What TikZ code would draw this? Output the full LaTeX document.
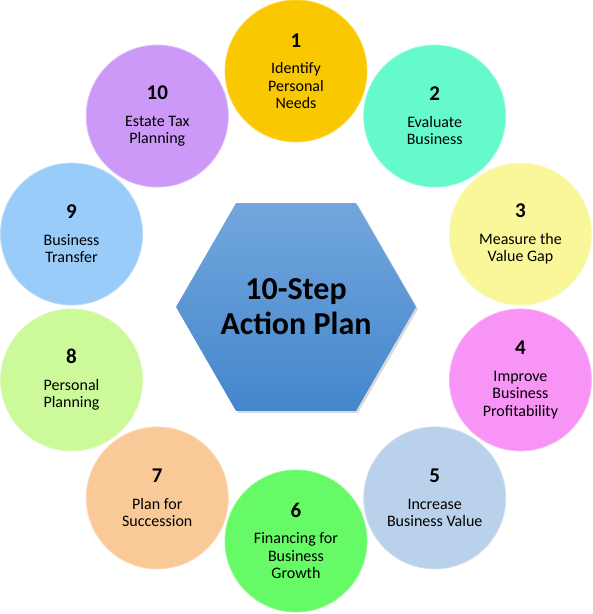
\documentclass[tikz,border=0pt]{standalone}
\usepackage{fontspec}
\setmainfont{Carlito}
\usetikzlibrary{shapes.geometric,shadows}

\definecolor{cOne}{RGB}{250,200,0}
\definecolor{cTwo}{RGB}{102,249,203}
\definecolor{cThree}{RGB}{249,247,154}
\definecolor{cFour}{RGB}{247,148,245}
\definecolor{cFive}{RGB}{185,209,234}
\definecolor{cSix}{RGB}{102,250,102}
\definecolor{cSeven}{RGB}{249,202,152}
\definecolor{cEight}{RGB}{204,249,154}
\definecolor{cNine}{RGB}{153,204,249}
\definecolor{cTen}{RGB}{204,153,249}
\definecolor{hexTop}{RGB}{114,167,221}
\definecolor{hexBot}{RGB}{68,134,204}

\newcommand{\num}[1]{{\fontsize{21}{24}\selectfont\bfseries #1}\\[9pt]}

\begin{document}
\begin{tikzpicture}[x=1pt,y=1pt]

\tikzstyle{c} = [shape=circle, minimum size=142pt, inner sep=0pt, align=center,
  font=\fontsize{16}{17.5}\selectfont, line width=0.8pt]
\tikzstyle{hx} = [regular polygon, regular polygon sides=6, minimum size=240pt,
  inner sep=-30pt, top color=hexTop, bottom color=hexBot, align=center,
  font=\fontsize{32}{35}\selectfont\bfseries,
  drop shadow={shadow xshift=2pt, shadow yshift=-2pt, opacity=0.3}]

\useasboundingbox (-296,307) rectangle (297,-307);

\node[hx] (plan) at (0,0) {10-Step\\Action Plan};

\node[c, fill=cOne, draw=cOne!70!white] (s1) at (90:236) {\num{1}Identify\\Personal\\Needs};
\node[c, fill=cTwo, draw=cTwo!70!white] (s2) at (54:236) {\num{2}Evaluate\\Business};
\node[c, fill=cThree, draw=cThree!70!white] (s3) at (18:236) {\num{3}Measure the\\Value Gap};
\node[c, fill=cFour, draw=cFour!70!white] (s4) at (-18:236) {\num{4}Improve\\Business\\Profitability};
\node[c, fill=cFive, draw=cFive!70!white] (s5) at (-54:236) {\num{5}Increase\\Business Value};
\node[c, fill=cSix, draw=cSix!70!white] (s6) at (-90:234) {\num{6}Financing for\\Business\\Growth};
\node[c, fill=cSeven, draw=cSeven!70!white] (s7) at (-126:236) {\num{7}Plan for\\Succession};
\node[c, fill=cEight, draw=cEight!70!white] (s8) at (-162:236) {\num{8}Personal\\Planning};
\node[c, fill=cNine, draw=cNine!70!white] (s9) at (162:236) {\num{9}Business\\Transfer};
\node[c, fill=cTen, draw=cTen!70!white] (s10) at (126:236) {\num{10}Estate Tax\\Planning};

\end{tikzpicture}
\end{document}
